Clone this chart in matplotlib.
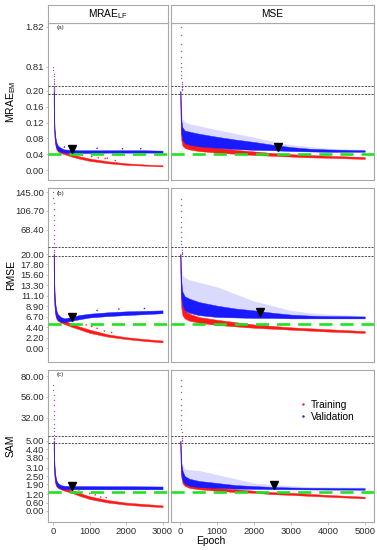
import numpy as np
import matplotlib
matplotlib.use("Agg")
import matplotlib.pyplot as plt
from matplotlib.lines import Line2D

plt.rcParams['font.family'] = ['Liberation Sans', 'DejaVu Sans']
plt.rcParams['mathtext.default'] = 'regular'

### data

col_titles = [r'MRAE$_{LF}$', 'MSE']
row_titles = [r'MRAE$_{EM}$', 'RMSE', 'SAM']
row_tags = ['(a)', '(b)', '(c)']

# y tick values per row (lower part + compressed upper part)
ticks_mrae = [0.00, 0.04, 0.08, 0.12, 0.16, 0.20, 0.81, 1.82]
ticks_rmse = [0.0, 2.2, 4.4, 6.7, 8.9, 11.1, 13.3, 15.6, 17.8, 20.0, 68.4, 106.7, 145.0]
ticks_sam = [0.0, 0.6, 1.2, 1.9, 2.5, 3.1, 3.8, 4.4, 5.0, 32.0, 56.0, 80.0]

xticks_lf = [0, 1000, 2000, 3000]
xticks_mse = [0, 1000, 2000, 3000, 4000, 5000]

# green reference level per row
ref_level = [0.040, 5.1, 1.36]

# epochs where the bands were read
ep_lf = [5, 15, 30, 50, 80, 120, 200, 300, 500, 700, 1000, 1500, 2000, 2500, 3000]
ep_mse = [5, 15, 30, 60, 120, 250, 500, 1000, 1500, 2000, 2500, 3000, 3500, 4000, 5000]

# first epochs (values above the axis break)
early_ep = [0, 1, 2, 3, 4, 5, 6, 7, 8, 9, 10, 11, 12, 13, 14]

# --- MRAE_EM, trained with MRAE_LF
mrae_lf_val_lo = [0.17, 0.12, 0.085, 0.068, 0.056, 0.050, 0.046, 0.044, 0.043, 0.043, 0.043, 0.044, 0.044, 0.044, 0.044]
mrae_lf_val_hi = [0.20, 0.15, 0.105, 0.085, 0.070, 0.062, 0.056, 0.052, 0.051, 0.050, 0.050, 0.050, 0.050, 0.050, 0.049]
mrae_lf_trn_lo = [0.16, 0.11, 0.080, 0.063, 0.052, 0.047, 0.043, 0.040, 0.034, 0.029, 0.023, 0.017, 0.013, 0.011, 0.009]
mrae_lf_trn_hi = [0.20, 0.14, 0.100, 0.078, 0.064, 0.057, 0.050, 0.046, 0.040, 0.035, 0.029, 0.022, 0.017, 0.014, 0.012]
mrae_lf_early = [0.81, 0.72, 0.64, 0.57, 0.51, 0.46, 0.41, 0.37, 0.33, 0.30, 0.27, 0.25, 0.23, 0.215, 0.205]
mrae_lf_spike_ep = [300, 600, 800, 1050, 1230, 1420, 1480, 1700, 1200, 1900, 2400]
mrae_lf_spike_val = [0.058, 0.056, 0.038, 0.034, 0.031, 0.029, 0.030, 0.024, 0.055, 0.054, 0.054]
mrae_lf_spike_is_val = [1, 1, 0, 0, 0, 0, 0, 0, 1, 1, 1]
mrae_lf_best = (500, 0.053)

# --- MRAE_EM, trained with MSE
mrae_mse_val_lo = [0.17, 0.12, 0.090, 0.076, 0.068, 0.064, 0.060, 0.056, 0.053, 0.051, 0.050, 0.048, 0.047, 0.046, 0.046]
mrae_mse_val_hi = [0.20, 0.16, 0.125, 0.108, 0.100, 0.097, 0.092, 0.084, 0.077, 0.071, 0.064, 0.058, 0.054, 0.052, 0.050]
mrae_mse_val_sp = [0.20, 0.18, 0.150, 0.130, 0.122, 0.117, 0.112, 0.102, 0.092, 0.083, 0.073, 0.064, 0.059, 0.055, 0.052]
mrae_mse_trn_lo = [0.16, 0.10, 0.075, 0.062, 0.056, 0.052, 0.048, 0.044, 0.041, 0.038, 0.036, 0.034, 0.032, 0.031, 0.028]
mrae_mse_trn_hi = [0.20, 0.14, 0.100, 0.080, 0.072, 0.067, 0.062, 0.056, 0.051, 0.047, 0.043, 0.040, 0.038, 0.036, 0.033]
mrae_mse_early = [1.82, 1.62, 1.40, 1.22, 1.05, 0.92, 0.80, 0.70, 0.60, 0.52, 0.44, 0.37, 0.31, 0.26, 0.22]
mrae_mse_best = (2650, 0.058)

# --- RMSE, trained with MRAE_LF
rmse_lf_val_lo = [17, 12, 9.0, 7.5, 6.5, 6.0, 5.6, 5.5, 5.8, 6.1, 6.5, 6.8, 7.0, 7.2, 7.4]
rmse_lf_val_hi = [20, 16, 12.0, 9.5, 8.0, 7.2, 6.6, 6.3, 6.6, 7.0, 7.3, 7.6, 7.8, 7.9, 8.0]
rmse_lf_trn_lo = [17, 11, 8.5, 7.0, 6.2, 5.8, 5.4, 5.1, 4.5, 4.0, 3.2, 2.4, 1.9, 1.5, 1.2]
rmse_lf_trn_hi = [20, 15, 11.0, 9.0, 7.5, 6.7, 6.2, 5.8, 5.2, 4.6, 3.9, 2.9, 2.3, 1.9, 1.6]
rmse_lf_early = [145, 133, 122, 110, 99, 88, 78, 68, 59, 50, 42, 35, 29, 24, 21]
rmse_lf_spike_ep = [900, 1050, 1200, 1400, 1600, 1200, 1800, 2500]
rmse_lf_spike_val = [4.9, 4.6, 4.2, 3.6, 3.3, 8.0, 8.3, 8.4]
rmse_lf_spike_is_val = [0, 0, 0, 0, 0, 1, 1, 1]
rmse_lf_best = (500, 6.6)

# --- RMSE, trained with MSE
rmse_mse_val_lo = [17, 13, 10.5, 9.0, 8.0, 7.5, 7.0, 6.6, 6.5, 6.4, 6.4, 6.3, 6.3, 6.3, 6.3]
rmse_mse_val_hi = [20, 17, 14.0, 12.0, 11.0, 10.5, 9.8, 9.0, 8.4, 8.0, 7.5, 7.1, 6.9, 6.8, 6.7]
rmse_mse_val_sp = [20, 19, 17.0, 15.5, 15.0, 14.5, 14.0, 13.0, 11.5, 10.0, 9.0, 8.0, 7.5, 7.2, 6.9]
rmse_mse_trn_lo = [16, 11, 8.5, 7.0, 6.3, 5.8, 5.4, 4.9, 4.6, 4.3, 4.1, 3.9, 3.7, 3.5, 3.2]
rmse_mse_trn_hi = [20, 15, 11.5, 9.0, 8.0, 7.3, 6.6, 6.0, 5.5, 5.0, 4.7, 4.4, 4.2, 4.0, 3.6]
rmse_mse_early = [130, 118, 106, 95, 84, 74, 64, 55, 47, 40, 34, 29, 25, 22, 20.5]
rmse_mse_best = (2160, 7.7)

# --- SAM, trained with MRAE_LF
sam_lf_val_lo = [4.3, 3.2, 2.5, 2.1, 1.85, 1.70, 1.60, 1.56, 1.55, 1.55, 1.55, 1.55, 1.55, 1.55, 1.55]
sam_lf_val_hi = [5.0, 4.0, 3.2, 2.6, 2.20, 2.00, 1.85, 1.80, 1.78, 1.78, 1.78, 1.77, 1.77, 1.76, 1.75]
sam_lf_trn_lo = [4.2, 3.0, 2.3, 1.95, 1.75, 1.65, 1.55, 1.45, 1.30, 1.10, 0.85, 0.60, 0.45, 0.35, 0.28]
sam_lf_trn_hi = [5.0, 3.9, 3.0, 2.4, 2.05, 1.90, 1.75, 1.65, 1.50, 1.30, 1.05, 0.78, 0.60, 0.50, 0.40]
sam_lf_early = [70, 64, 58, 52, 46, 40, 35, 30, 25, 20, 16, 12, 9, 7, 5.5]
sam_lf_spike_ep = [1000, 1150, 1300, 1450, 700]
sam_lf_spike_val = [1.25, 1.15, 1.0, 0.95, 1.5]
sam_lf_spike_is_val = [0, 0, 0, 0, 0]
sam_lf_best = (500, 1.82)

# --- SAM, trained with MSE
sam_mse_val_lo = [4.3, 3.2, 2.6, 2.2, 1.95, 1.80, 1.70, 1.65, 1.60, 1.58, 1.56, 1.55, 1.54, 1.53, 1.52]
sam_mse_val_hi = [5.0, 4.2, 3.4, 2.9, 2.50, 2.30, 2.15, 2.00, 1.85, 1.78, 1.72, 1.68, 1.66, 1.65, 1.63]
sam_mse_val_sp = [5.0, 4.6, 3.9, 3.3, 3.00, 2.95, 2.90, 2.60, 2.30, 2.00, 1.90, 1.80, 1.75, 1.72, 1.70]
sam_mse_trn_lo = [4.2, 3.0, 2.4, 2.0, 1.80, 1.65, 1.55, 1.45, 1.35, 1.30, 1.20, 1.15, 1.08, 1.02, 0.90]
sam_mse_trn_hi = [5.0, 4.0, 3.1, 2.6, 2.20, 1.95, 1.80, 1.65, 1.55, 1.45, 1.35, 1.30, 1.22, 1.15, 1.02]
sam_mse_early = [75, 68, 61, 54, 47, 41, 35, 29, 24, 19, 15, 11, 8, 6.5, 5.3]
sam_mse_best = (2540, 1.86)

### layout (pixels of the 377x550 picture)
W, H = 377, 550
cols = [(48, 168, -150, 3150), (171, 374, -250, 5250)]
# top, bottom, pixel of 0, pixel of break, break value, ref value, pixel of ref, dash offsets
rows = [
    (23, 180, 170, 91, 0.20, 1.82, 27, 5, 3),
    (188, 362, 348, 254, 20.0, 145.0, 192, 7, 2),
    (370, 522, 511, 441, 5.0, 80.0, 376, 5, 2),
]
row_ticks = [ticks_mrae, ticks_rmse, ticks_sam]

panels = [
    [(ep_lf, mrae_lf_val_lo, mrae_lf_val_hi, None, mrae_lf_trn_lo, mrae_lf_trn_hi, mrae_lf_early,
      (mrae_lf_spike_ep, mrae_lf_spike_val, mrae_lf_spike_is_val), mrae_lf_best),
     (ep_mse, mrae_mse_val_lo, mrae_mse_val_hi, mrae_mse_val_sp, mrae_mse_trn_lo, mrae_mse_trn_hi, mrae_mse_early,
      None, mrae_mse_best)],
    [(ep_lf, rmse_lf_val_lo, rmse_lf_val_hi, None, rmse_lf_trn_lo, rmse_lf_trn_hi, rmse_lf_early,
      (rmse_lf_spike_ep, rmse_lf_spike_val, rmse_lf_spike_is_val), rmse_lf_best),
     (ep_mse, rmse_mse_val_lo, rmse_mse_val_hi, rmse_mse_val_sp, rmse_mse_trn_lo, rmse_mse_trn_hi, rmse_mse_early,
      None, rmse_mse_best)],
    [(ep_lf, sam_lf_val_lo, sam_lf_val_hi, None, sam_lf_trn_lo, sam_lf_trn_hi, sam_lf_early,
      (sam_lf_spike_ep, sam_lf_spike_val, sam_lf_spike_is_val), sam_lf_best),
     (ep_mse, sam_mse_val_lo, sam_mse_val_hi, sam_mse_val_sp, sam_mse_trn_lo, sam_mse_trn_hi, sam_mse_early,
      None, sam_mse_best)],
]

RED = '#ff1a1a'
BLUE = '#1a1aff'
PURPLE = '#9a5ab8'
GREEN = '#22e022'
BORDER = '#a8a8a8'
TXT = '#2b2b2b'


def make_scale(brk, k_lo, k_hi):
    b = brk * k_lo

    def fwd(v):
        v = np.asarray(v, dtype=float)
        return np.where(v <= brk, v * k_lo, b + (v - brk) * k_hi)

    def inv(p):
        p = np.asarray(p, dtype=float)
        return np.where(p <= b, p / k_lo, brk + (p - b) / k_hi)
    return fwd, inv


def px_axes(x0, y0, x1, y1):
    return fig.add_axes([x0 / W, 1 - y1 / H, (x1 - x0) / W, (y1 - y0) / H])


fig = plt.figure(figsize=(W / 100, H / 100), dpi=100)

for r, (top, bot, zero, kink, brk, refv, refp, dup, dlo) in enumerate(rows):
    k_lo = (zero - kink) / brk
    k_hi = (kink - refp) / (refv - brk)
    fwd, inv = make_scale(brk, k_lo, k_hi)
    ylo = -(bot - zero) / k_lo
    yhi = brk + (kink - top) / k_hi
    for c, (x0, x1, xmin, xmax) in enumerate(cols):
        ax = px_axes(x0, top, x1, bot)
        ax.set_yscale('function', functions=(fwd, inv))
        ax.set_ylim(ylo, yhi)
        ax.set_xlim(xmin, xmax)
        for s in ax.spines.values():
            s.set_color(BORDER)
            s.set_linewidth(0.8)

        ep, vlo, vhi, vsp, tlo, thi, early, spikes, best = panels[r][c]
        ax.fill_between(ep, tlo, thi, color=RED, lw=0.3, zorder=2)
        if vsp is not None:
            ax.fill_between(ep, vhi, vsp, color=BLUE, alpha=0.16, lw=0, zorder=2.5)
        ax.fill_between(ep, vlo, vhi, color=BLUE, lw=0.3, zorder=3)
        if spikes is not None:
            sep, sval, isv = spikes
            cl = [BLUE if v else RED for v in isv]
            ax.scatter(sep, sval, s=1.2, c=cl, lw=0, zorder=3.2)
        ex = np.array(early_ep) + (0 if c == 0 else 25)
        ax.scatter(ex, early, s=1.0, color=PURPLE, lw=0, zorder=3.3)

        ax.axhline(ref_level[r], color=GREEN, lw=1.9, dashes=(5, 3), zorder=4)
        ax.plot([best[0]], [best[1]], marker='v', color='black', ms=5.5, ls='', zorder=5)

        # axis break markers
        ax.axhline(brk + dup / k_hi, color='#333333', lw=0.6, dashes=(2.5, 1.5), zorder=4)
        ax.axhline(brk - dlo / k_lo, color='#333333', lw=0.6, dashes=(2.5, 1.5), zorder=4)

        ax.minorticks_off()
        if c == 0:
            ax.set_yticks(row_ticks[r])
            ax.set_yticklabels(['%.2f' % t for t in row_ticks[r]])
            ax.tick_params(axis='y', length=1.5, width=0.5, color=BORDER, pad=1.2,
                           labelsize=6.8, labelcolor=TXT)
            ax.text(0.07, 0.985, row_tags[r], transform=ax.transAxes, fontsize=4.5,
                    color=TXT, ha='left', va='top')
        else:
            ax.set_yticks([])
        if r == 2:
            ax.set_xticks(xticks_lf if c == 0 else xticks_mse)
            ax.tick_params(axis='x', length=1.8, width=0.5, color=BORDER, pad=1.5,
                           labelsize=6.8, labelcolor=TXT)
        else:
            ax.set_xticks([])

        if r == 0:
            sax = px_axes(x0, 5, x1, 23)
            sax.set_xticks([])
            sax.set_yticks([])
            for s in sax.spines.values():
                s.set_color(BORDER)
                s.set_linewidth(0.8)
            sax.text(0.5, 0.5, col_titles[c], transform=sax.transAxes, ha='center',
                     va='center', fontsize=7.3, color='black')

        if r == 2 and c == 1:
            handles = [Line2D([], [], ls='', marker='.', ms=1.5, color=RED),
                       Line2D([], [], ls='', marker='.', ms=1.5, color=BLUE)]
            ax.legend(handles, ['Training', 'Validation'], loc='upper left',
                      bbox_to_anchor=(300 / W, 1 - 400 / H), bbox_transform=fig.transFigure,
                      frameon=False, fontsize=7.3, handlelength=0.6, handletextpad=0.5,
                      labelspacing=0.15, borderpad=0, borderaxespad=0)

    fig.text(11 / W, 1 - (top + bot) / 2 / H, row_titles[r], rotation=90, ha='center',
             va='center', fontsize=7.5, color='black')

fig.text(211 / W, 1 - 541 / H, 'Epoch', ha='center', va='center', fontsize=7.5, color='black')

fig.savefig('out.png', dpi=100)
